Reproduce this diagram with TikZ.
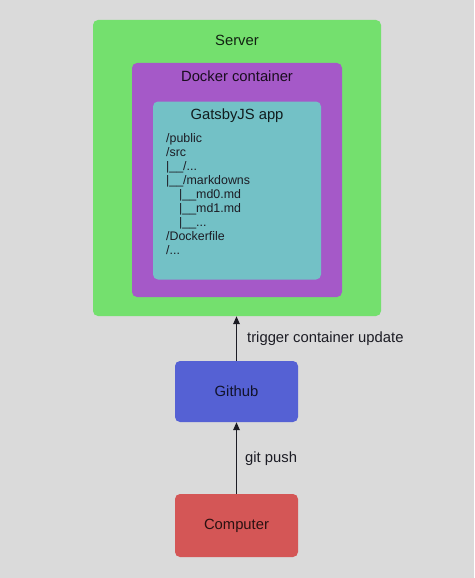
\documentclass[tikz,border=0pt]{standalone}
\usepackage{fontspec}
\setmainfont{Liberation Sans}
\usetikzlibrary{arrows.meta}
\definecolor{bg}{HTML}{DADADA}
\definecolor{servergreen}{HTML}{74E06E}
\definecolor{dockerpurple}{HTML}{A559C8}
\definecolor{gatsbyteal}{HTML}{73C1C6}
\definecolor{githubblue}{HTML}{5561D4}
\definecolor{computerred}{HTML}{D45656}
\definecolor{ink}{HTML}{1C1C24}
\tikzset{
  box/.style={rectangle, rounded corners=5pt, draw=none, inner sep=0pt},
  title/.style={inner sep=0pt, font=\fontsize{14.8}{17}\selectfont},
  listing/.style={inner sep=0pt, anchor=base west, font=\fontsize{12.4}{14}\selectfont, text=ink},
  lbl/.style={inner sep=0pt, anchor=west, font=\fontsize{14.8}{17}\selectfont, text=ink},
  conn/.style={line width=1.6pt, draw=ink, -{Triangle[length=8pt,width=6.5pt]}}
}
\begin{document}
\begin{tikzpicture}[x=1pt,y=-1pt]
\fill[bg] (0,0) rectangle (474,578);
\useasboundingbox (0,0) rectangle (474,578);
% containers
\node[box, fill=servergreen, minimum width=288pt, minimum height=296pt] (server) at (237,168) {};
\node[box, fill=dockerpurple, minimum width=210pt, minimum height=234pt] (docker) at (237,180) {};
\node[box, fill=gatsbyteal, minimum width=168pt, minimum height=178pt] (gatsby) at (237,190.5) {};
\node[title, text=servergreen!15!black] (servert) at (237,40) {Server};
\node[title, text=dockerpurple!15!black] (dockert) at (237,76.5) {Docker container};
\node[title, text=gatsbyteal!15!black] (gatsbyt) at (237,116) {GatsbyJS app};
% listing
\node[listing] (l1) at (166,142.5) {/public};
\node[listing] (l2) at (166,156.5) {/src};
\node[listing] (l3) at (166,170.5) {|\_\_/...};
\node[listing] (l4) at (166,184.5) {|\_\_/markdowns};
\node[listing] (l5) at (179,198.5) {|\_\_md0.md};
\node[listing] (l6) at (179,212.5) {|\_\_md1.md};
\node[listing] (l7) at (179,226.5) {|\_\_...};
\node[listing] (l8) at (166,240.5) {/Dockerfile};
\node[listing] (l9) at (166,254.5) {/...};
% bottom boxes
\node[box, fill=githubblue, minimum width=123pt, minimum height=61pt, font=\fontsize{14.8}{17}\selectfont, text=githubblue!20!black] (github) at (236.5,391.5) {Github};
\node[box, fill=computerred, minimum width=123pt, minimum height=63pt, font=\fontsize{14.8}{17}\selectfont, text=computerred!20!black] (computer) at (236.5,525.5) {Computer};
% connectors
\draw[conn] (github.north) -- (github.north |- server.south);
\draw[conn] (computer.north) -- (github.south);
\node[lbl] (trig) at (247,339) {trigger container update};
\node[lbl] (push) at (245,459) {git push};
\end{tikzpicture}
\end{document}
